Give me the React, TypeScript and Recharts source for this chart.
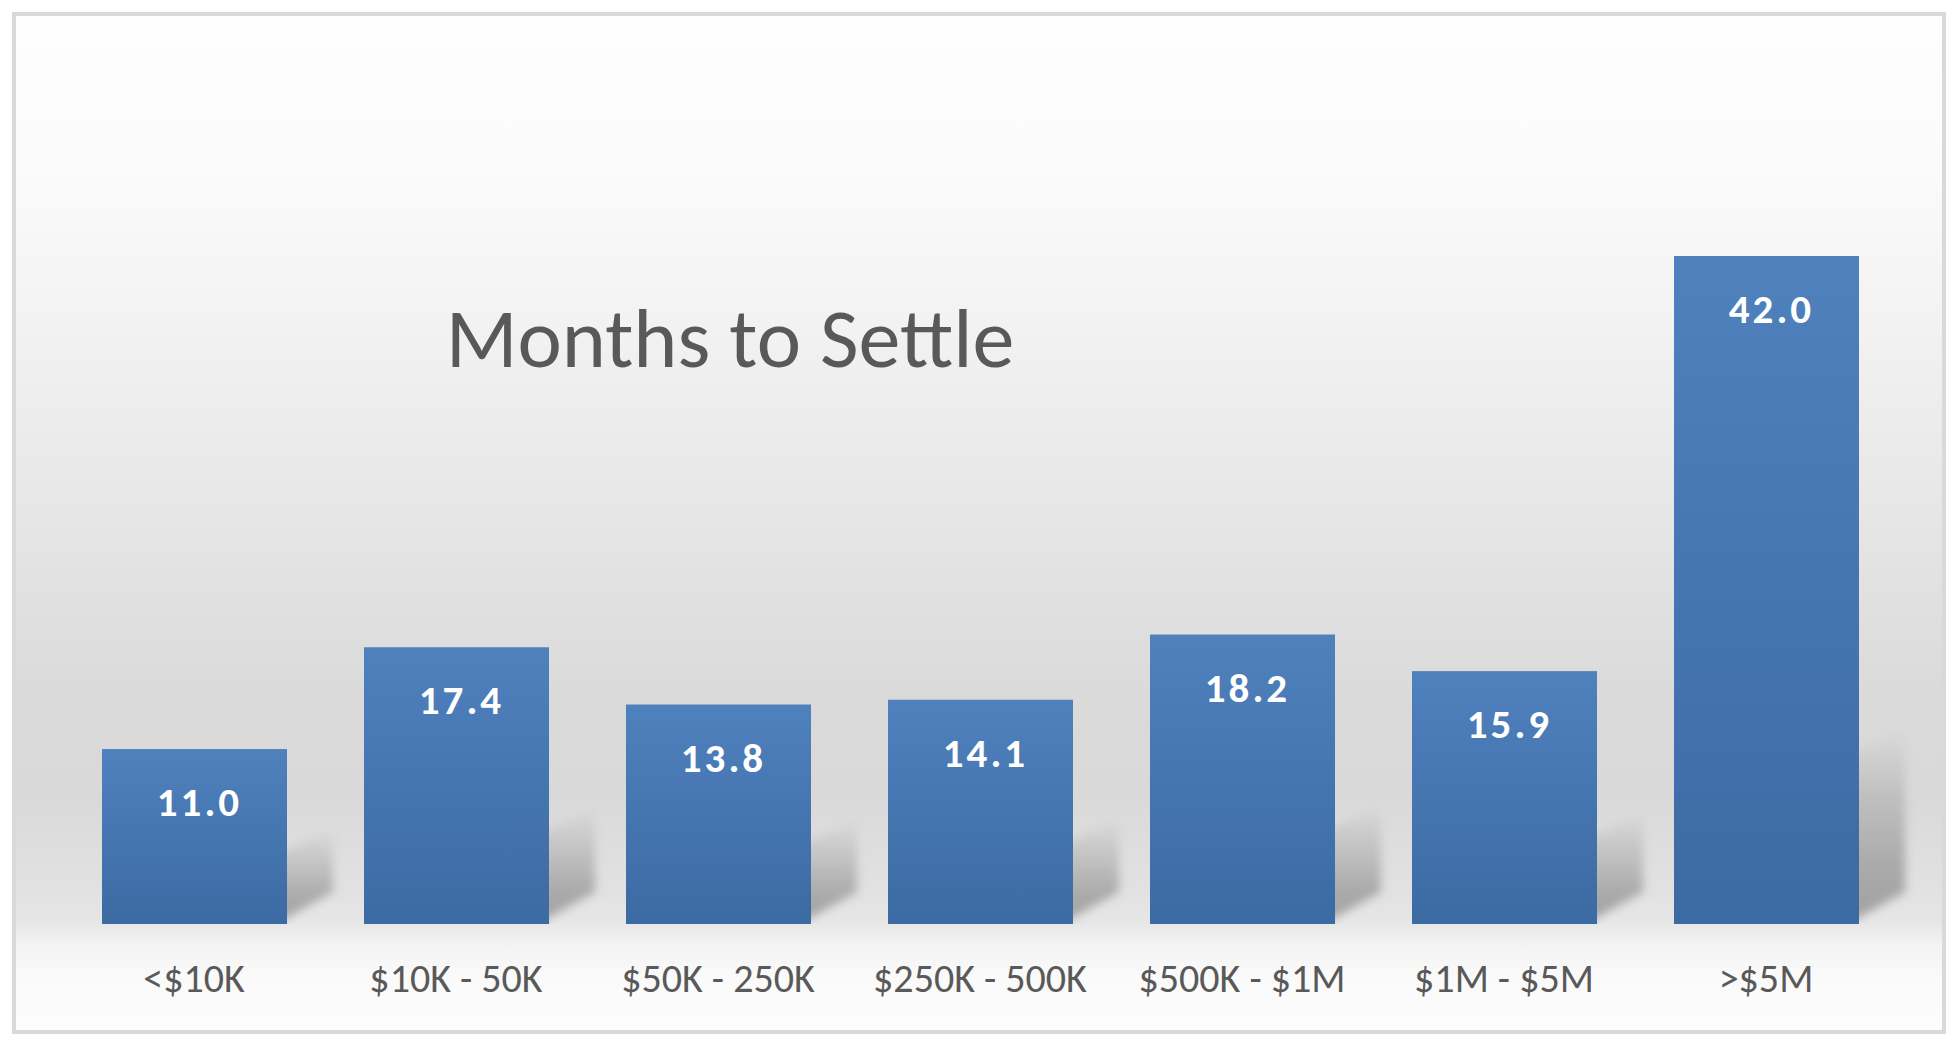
import React from 'react';
import { BarChart, Bar, XAxis, YAxis, LabelList } from 'recharts';

const categories = ['<$10K', '$10K - 50K', '$50K - 250K', '$250K - 500K', '$500K - $1M', '$1M - $5M', '>$5M'];
const monthsToSettle = [11.0, 17.4, 13.8, 14.1, 18.2, 15.9, 42.0];
const yDomain = [0, 42];
const titleText = 'Months to Settle';

const data = categories.map((c, i) => ({ category: c, months: monthsToSettle[i] }));

const FONT = 'Carlito, Lato, "Open Sans", sans-serif';

function BarWithShadow(props: any) {
  const { x, y, width, height } = props;
  if (height == null || height <= 0) return null;
  const bx = x + width;
  const by = y + height;
  const sh = Math.min(height, 60 + 0.2 * height);
  const pts = `${bx - 12},${by} ${bx + 46},${by - 32} ${bx + 46},${by - sh} ${bx - 12},${by - sh + 25}`;
  return (
    <g>
      <polygon points={pts} fill="url(#shadowGrad)" filter="url(#shadowBlur)" />
      <rect x={x} y={y} width={width} height={height} fill="url(#barGrad)" />
    </g>
  );
}

function ValueLabel(props: any) {
  const { x, y, width, value } = props;
  return (
    <text
      x={x + width / 2 + 5}
      y={y + 67}
      textAnchor="middle"
      fill="#ffffff"
      fontFamily={FONT}
      fontWeight={700}
      fontSize={41}
      letterSpacing={3}
    >
      {Number(value).toFixed(1)}
    </text>
  );
}

function CategoryTick(props: any) {
  const { x, y, payload } = props;
  return (
    <text x={x} y={y + 68} textAnchor="middle" fill="#595959" fontFamily={FONT} fontSize={40}>
      {payload.value}
    </text>
  );
}

export default function App() {
  return (
    <div style={{ position: 'absolute', left: 0, top: 0, width: 1958, height: 1042, background: '#ffffff', overflow: 'hidden' }}>
      <div
        style={{
          position: 'absolute',
          left: 12,
          top: 12,
          width: 1934,
          height: 1022,
          boxSizing: 'border-box',
          border: '4px solid #d9d9d9',
          background:
            'linear-gradient(to bottom, #fefefe 0px, #fbfbfb 150px, #f1f1f1 330px, #e6e6e6 500px, #dadada 680px, #d9d9d9 780px, #e2e2e2 880px, #e6e6e6 905px, #f3f3f3 930px, #fafafa 960px, #fdfdfd 1022px)',
        }}
      />
      <div style={{ position: 'absolute', left: 0, top: 0 }}>
        <BarChart
          width={1958}
          height={1042}
          data={data}
          margin={{ top: 256, right: 61, bottom: 58, left: 63 }}
        >
          <defs>
            <linearGradient id="barGrad" x1="0" y1="0" x2="0" y2="1">
              <stop offset="0%" stopColor="#4f81bd" />
              <stop offset="100%" stopColor="#3c6aa3" />
            </linearGradient>
            <linearGradient id="shadowGrad" x1="0" y1="0" x2="0" y2="1">
              <stop offset="0%" stopColor="#000000" stopOpacity={0} />
              <stop offset="70%" stopColor="#000000" stopOpacity={0.24} />
              <stop offset="100%" stopColor="#000000" stopOpacity={0.3} />
            </linearGradient>
            <filter id="shadowBlur" x="-50%" y="-50%" width="200%" height="200%">
              <feGaussianBlur stdDeviation="5" />
            </filter>
          </defs>
          <XAxis
            dataKey="category"
            axisLine={false}
            tickLine={false}
            tickSize={0}
            tickMargin={0}
            height={60}
            interval={0}
            tick={<CategoryTick />}
          />
          <YAxis hide domain={yDomain} allowDataOverflow />
          <Bar dataKey="months" barSize={185} isAnimationActive={false} shape={<BarWithShadow />}>
            <LabelList dataKey="months" content={<ValueLabel />} />
          </Bar>
        </BarChart>
      </div>
      <svg width={1958} height={1042} style={{ position: 'absolute', left: 0, top: 0, pointerEvents: 'none' }}>
        <text x={730} y={367} textAnchor="middle" fill="#595959" fontFamily={FONT} fontSize={84}>
          {titleText}
        </text>
      </svg>
    </div>
  );
}
